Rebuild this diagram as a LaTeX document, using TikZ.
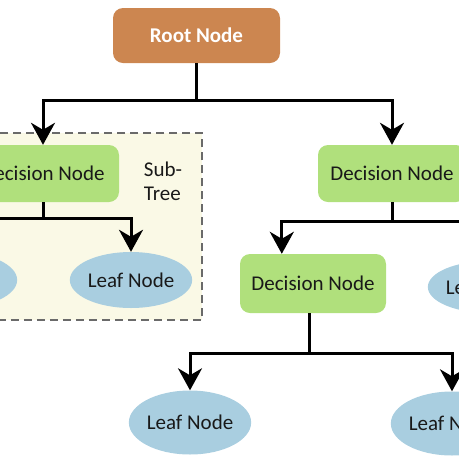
\documentclass[tikz,border=0pt]{standalone}
\usepackage{fontspec}
\setmainfont{Carlito}
\usetikzlibrary{arrows.meta,shapes.geometric}
\definecolor{rootc}{HTML}{CC8650}
\definecolor{decc}{HTML}{B0E07C}
\definecolor{leafc}{HTML}{A9CEE0}
\definecolor{subc}{HTML}{FAF9E6}
\definecolor{dashc}{HTML}{6A6A6A}
\tikzset{
  rootbox/.style={rectangle, rounded corners=10pt, fill=rootc, text=white, font=\fontsize{21}{24}\selectfont\bfseries, minimum width=167pt, minimum height=55pt, inner sep=0pt},
  decbox/.style={rectangle, rounded corners=10pt, fill=decc, text=black!90, font=\fontsize{21}{24}\selectfont, minimum height=57pt, inner sep=0pt},
  leafbox/.style={ellipse, fill=leafc, text=black!90, font=\fontsize{21}{24}\selectfont, inner sep=0pt},
  conn/.style={line width=3pt, black},
  arr/.style={conn, -{Stealth[length=22pt 0, width=24pt 0, inset=7pt 0]}},
}
\begin{document}
\begin{tikzpicture}[x=1pt, y=-1pt]
\useasboundingbox (0,0) rectangle (459,459);
% sub-tree box
\draw[fill=subc, draw=dashc, line width=2.4pt, dash pattern=on 8pt off 5pt] (-10,133) rectangle (202,320);
\node[font=\fontsize{21}{24}\selectfont, align=left, text=black!90] (sub) at (163,181) {Sub-\\Tree};
% nodes
\node[rootbox] (root) at (196.5,35.5) {Root Node};
\node[decbox, minimum width=152pt] (dl) at (43,173.5) {Decision Node};
\node[decbox, minimum width=148pt] (dr) at (392,173.5) {Decision Node};
\node[decbox, minimum width=146pt, minimum height=59pt] (d2) at (313,283.5) {Decision Node};
\node[leafbox, minimum width=120pt, minimum height=56pt] (l1) at (-44,280) {Leaf Node};
\node[leafbox, minimum width=119pt, minimum height=56pt] (l2) at (131,280) {Leaf Node};
\node[leafbox, minimum width=120pt, minimum height=52pt] (l3) at (489,287) {Leaf Node};
\node[leafbox, minimum width=117pt, minimum height=64pt] (l4) at (190,422.5) {Leaf Node};
\node[leafbox, minimum width=120pt, minimum height=64pt] (l5) at (452,423.5) {Leaf Node};
% junctions
\coordinate (j0) at (196.5,100);
\coordinate (j1) at (43,218);
\coordinate (j2) at (392,221);
\coordinate (d2in) at ([xshift=42pt]d2.north west);
\coordinate (d2out) at ([xshift=-4pt]d2.south);
\coordinate (j3) at (309,353);
% connectors
\draw[conn] (root.south) -- (j0);
\draw[arr] (j0) -| (dl.north);
\draw[arr] (j0) -| (dr.north);
\draw[conn] (dl.south) -- (j1);
\draw[arr] (j1) -| (l1.north);
\draw[arr] (j1) -| (l2.north);
\draw[conn] (dr.south) -- (j2);
\draw[arr] (j2) -| (d2in);
\draw[arr] (j2) -| (l3.north);
\draw[conn] (d2out) -- (j3);
\draw[arr] (j3) -| (l4.north);
\draw[arr] (j3) -| (l5.north);
\end{tikzpicture}
\end{document}
